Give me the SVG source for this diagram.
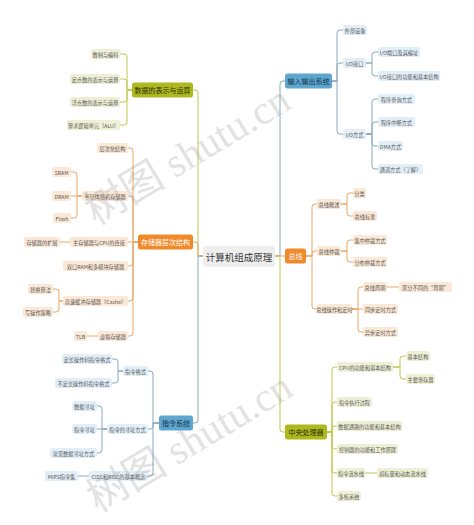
<svg xmlns="http://www.w3.org/2000/svg" width="474" height="525" viewBox="0 0 474 525">
<style>
text{font-family:"Noto Sans CJK SC","Noto Sans",sans-serif;text-anchor:middle;dominant-baseline:central}
.c text{font-size:5.2px;fill:#555}
.c rect{rx:2;ry:2}
.ob rect{fill:#eef0d6}
.or rect{fill:#fbe8d6}
.bl rect{fill:#e2eff8}
.m text{font-size:7px}
.m rect{rx:2.5;ry:2.5}
.mo rect{fill:#adb91e}.mo text{fill:#2c3000}
.mr rect{fill:#f0892a}.mr text{fill:#fff}
.mb rect{fill:#5fa6cf}.mb text{fill:#10314a}
#conn path{fill:none;stroke-width:1}
.lo{stroke:#bfc84c}.lr{stroke:#e9a766}.lb{stroke:#88aabd}
.wm{font-family:"Liberation Serif","Noto Sans CJK SC",serif;font-size:41px;fill:#9a9a9a;opacity:.28;text-anchor:start;dominant-baseline:auto}
</style>
<rect width="474" height="525" fill="#fff"/>
<g id="conn">
<path class="lo" stroke-width="1.3" d="M203,256 H198 V93 Q198,90 195,90 H193"/>
<path class="lr" stroke-width="1.3" d="M203,256 H198 V245 Q198,242 195,242 H193"/>
<path class="lb" stroke-width="1.3" d="M203,256 H198 V420 Q198,423 195,423 H193"/>
<path class="lb" stroke-width="1.3" d="M275,256 H280 V84 Q280,81 283,81 H285"/>
<path class="lo" stroke-width="1.3" d="M275,256 H280 V429 Q280,432 283,432 H285"/>
<path class="lr" stroke-width="1.3" d="M275,256 H285"/>
<path class="lo" d="M132,90 H127 V57 Q127,54 124,54 H120 M132,90 H127 V82 Q127,79 124,79 H120 M132,90 H127 V99 Q127,102 124,102 H120 M132,90 H127 V122 Q127,125 124,125 H120"/>
<path class="lr" d="M138,242 H133 V151 Q133,148 130,148 H128 M138,242 H133 V199 Q133,196 130,196 H128 M138,242 H128 M138,242 H133 V263 Q133,266 130,266 H128 M138,242 H133 V298 Q133,301 130,301 H128 M138,242 H133 V333 Q133,336 130,336 H128"/>
<path class="lr" d="M82,196 H77 V175 Q77,172 74,172 H71 M82,196 H71 M82,196 H77 V215 Q77,218 74,218 H71 M70,242 H60 M63,301 H59 V292 Q59,289 56,289 H53 M63,301 H59 V309 Q59,312 56,312 H53 M98,336 H87"/>
<path class="lb" d="M159,423 H153 V374 Q153,371 150,371 H148 M159,423 H153 V426 Q153,429 150,429 H148 M159,423 H153 V473 Q153,476 150,476 H148"/>
<path class="lb" d="M123,371 H118 V362 Q118,359 115,359 H112 M123,371 H118 V380 Q118,383 115,383 H112 M107,429 H102 V409 Q102,406 99,406 H97 M107,429 H97 M107,429 H102 V450 Q102,453 99,453 H97 M89,476 H78"/>
<path class="lb" d="M332,81 H337 V33 Q337,30 340,30 H343 M332,81 H337 V66 Q337,63 340,63 H343 M332,81 H337 V131 Q337,134 340,134 H343"/>
<path class="lb" d="M366,63 H372 V55 Q372,52 375,52 H378 M366,63 H372 V73 Q372,76 375,76 H378 M366,134 H372 V102 Q372,99 375,99 H378 M366,134 H372 V125 Q372,122 375,122 H378 M366,134 H372 V143 Q372,146 375,146 H378 M366,134 H372 V166 Q372,169 375,169 H378"/>
<path class="lr" d="M306,256 H312 V207 Q312,204 315,204 H317 M306,256 H312 V254 Q312,251 315,251 H317 M306,256 H312 V306 Q312,309 315,309 H317"/>
<path class="lr" d="M341,204 H347 V196 Q347,193 350,193 H353 M341,204 H347 V213 Q347,216 350,216 H353 M341,251 H347 V243 Q347,240 350,240 H353 M341,251 H347 V259 Q347,262 350,262 H353 M352,309 H358 V290 Q358,287 361,287 H363 M352,309 H363 M352,309 H358 V329 Q358,332 361,332 H363 M387,287 H399"/>
<path class="lo" d="M327,432 H332 V370 Q332,367 335,367 H337 M327,432 H332 V405 Q332,402 335,402 H337 M327,432 H332 V429 Q332,426 335,426 H337 M327,432 H332 V446 Q332,449 335,449 H337 M327,432 H332 V470 Q332,473 335,473 H337 M327,432 H332 V493 Q332,496 335,496 H337"/>
<path class="lo" d="M393,367 H400 V359 Q400,356 403,356 H406 M393,367 H400 V376 Q400,379 403,379 H406 M365,473 H377"/>
</g>
<g id="root"><rect x="203" y="246" width="72" height="21" rx="3" fill="#eeeeee"/><text x="239" y="256.5" font-size="9.5" fill="#333">计算机组成原理</text></g>
<g id="n-data" class="m mo"><rect x="132" y="82.5" width="61" height="15"/><text x="162.5" y="90">数据的表示与运算</text></g>
<g id="n-mem" class="m mr"><rect x="138" y="234.5" width="55" height="15"/><text x="165.5" y="242">存储器层次结构</text></g>
<g id="n-ins" class="m mb"><rect x="159" y="415.5" width="34" height="15"/><text x="176" y="423">指令系统</text></g>
<g id="n-io" class="m mb"><rect x="285" y="73.5" width="47" height="15"/><text x="308.5" y="81">输入输出系统</text></g>
<g id="n-bus" class="m mr"><rect x="285" y="248.5" width="21" height="15"/><text x="295.5" y="256">总线</text></g>
<g id="n-cpu" class="m mo"><rect x="285" y="424.5" width="42" height="15"/><text x="306" y="432">中央处理器</text></g>
<g class="c ob">
<g id="d1"><rect x="91" y="49" width="29" height="10"/><text x="105.5" y="54">数制与编码</text></g>
<g id="d2"><rect x="70" y="74" width="50" height="10"/><text x="95" y="79">定点数的表示与运算</text></g>
<g id="d3"><rect x="70" y="97" width="50" height="10"/><text x="95" y="102">浮点数的表示与运算</text></g>
<g id="d4"><rect x="67" y="120" width="53" height="10"/><text x="93.5" y="125">算术逻辑单元（ALU）</text></g>
<g id="p1"><rect x="337" y="362" width="56" height="10"/><text x="365" y="367">CPU的功能和基本结构</text></g>
<g id="p1a"><rect x="406" y="351" width="24" height="10"/><text x="418" y="356">基本结构</text></g>
<g id="p1b"><rect x="406" y="374" width="29" height="10"/><text x="420.5" y="379">主要寄存器</text></g>
<g id="p2"><rect x="337" y="397" width="35" height="10"/><text x="354.5" y="402">指令执行过程</text></g>
<g id="p3"><rect x="337" y="421" width="65" height="10"/><text x="369.5" y="426">数据通路的功能和基本结构</text></g>
<g id="p4"><rect x="337" y="444" width="61" height="10"/><text x="367.5" y="449">控制器的功能和工作原理</text></g>
<g id="p5"><rect x="337" y="468" width="28" height="10"/><text x="351" y="473">指令流水线</text></g>
<g id="p5a"><rect x="377" y="468" width="51" height="10"/><text x="402.5" y="473">超标量和动态流水线</text></g>
<g id="p6"><rect x="337" y="491" width="24" height="10"/><text x="349" y="496">多核系统</text></g>
</g>
<g class="c or">
<g id="m1"><rect x="97" y="143" width="31" height="10"/><text x="112.5" y="148">层次化结构</text></g>
<g id="m2"><rect x="82" y="191" width="46" height="10"/><text x="105" y="196">半导体随机存储器</text></g>
<g id="m2a"><rect x="52" y="167" width="19" height="10"/><text x="61.5" y="172">SRAM</text></g>
<g id="m2b"><rect x="52" y="191" width="19" height="10"/><text x="61.5" y="196">DRAM</text></g>
<g id="m2c"><rect x="53" y="213" width="18" height="10"/><text x="62" y="218">Flash</text></g>
<g id="m3"><rect x="70" y="237" width="58" height="10"/><text x="99" y="242">主存储器与CPU的连接</text></g>
<g id="m3a"><rect x="24" y="237" width="36" height="10"/><text x="42" y="242">存储器的扩展</text></g>
<g id="m4"><rect x="63" y="261" width="65" height="10"/><text x="95.5" y="266">双口RAM和多模块存储器</text></g>
<g id="m5"><rect x="63" y="296" width="65" height="10"/><text x="95.5" y="301">高速缓冲存储器（Cache）</text></g>
<g id="m5a"><rect x="28" y="284" width="25" height="10"/><text x="40.5" y="289">替换算法</text></g>
<g id="m5b"><rect x="23" y="307" width="30" height="10"/><text x="38" y="312">写操作策略</text></g>
<g id="m6"><rect x="98" y="331" width="30" height="10"/><text x="113" y="336">虚拟存储器</text></g>
<g id="m6a"><rect x="74" y="331" width="13" height="10"/><text x="80.5" y="336">TLB</text></g>
<g id="b1"><rect x="317" y="199" width="24" height="10"/><text x="329" y="204">总线概述</text></g>
<g id="b1a"><rect x="353" y="188" width="13" height="10"/><text x="359.5" y="193">分类</text></g>
<g id="b1b"><rect x="353" y="211" width="24" height="10"/><text x="365" y="216">总线标准</text></g>
<g id="b2"><rect x="317" y="246" width="24" height="10"/><text x="329" y="251">总线仲裁</text></g>
<g id="b2a"><rect x="353" y="235" width="34" height="10"/><text x="370" y="240">集中仲裁方式</text></g>
<g id="b2b"><rect x="353" y="257" width="34" height="10"/><text x="370" y="262">分布仲裁方式</text></g>
<g id="b3"><rect x="317" y="304" width="35" height="10"/><text x="334.5" y="309">总线操作和定时</text></g>
<g id="b3a"><rect x="363" y="282" width="24" height="10"/><text x="375" y="287">总线周期</text></g>
<g id="b3a1"><rect x="399" y="282" width="53" height="10"/><text x="425.5" y="287">区分不同的“周期”</text></g>
<g id="b3b"><rect x="363" y="304" width="35" height="10"/><text x="380.5" y="309">同步定时方式</text></g>
<g id="b3c"><rect x="363" y="327" width="35" height="10"/><text x="380.5" y="332">异步定时方式</text></g>
</g>
<g class="c bl">
<g id="i1"><rect x="123" y="366" width="25" height="10"/><text x="135.5" y="371">指令格式</text></g>
<g id="i1a"><rect x="62" y="354" width="50" height="10"/><text x="87" y="359">定长操作码指令格式</text></g>
<g id="i1b"><rect x="55" y="378" width="57" height="10"/><text x="83.5" y="383">不定长操作码指令格式</text></g>
<g id="i2"><rect x="107" y="424" width="41" height="10"/><text x="127.5" y="429">指令的寻址方式</text></g>
<g id="i2a"><rect x="72" y="401" width="25" height="10"/><text x="84.5" y="406">数据寻址</text></g>
<g id="i2b"><rect x="72" y="424" width="25" height="10"/><text x="84.5" y="429">指令寻址</text></g>
<g id="i2c"><rect x="50" y="448" width="47" height="10"/><text x="73.5" y="453">常见数据寻址方式</text></g>
<g id="i3"><rect x="89" y="471" width="59" height="10"/><text x="118.5" y="476">CISC和RISC的基本概念</text></g>
<g id="i3a"><rect x="45" y="471" width="33" height="10"/><text x="61.5" y="476">MIPS指令集</text></g>
<g id="o1"><rect x="343" y="25" width="24" height="10"/><text x="355" y="30">外部设备</text></g>
<g id="o2"><rect x="343" y="58" width="23" height="10"/><text x="354.5" y="63">I/O接口</text></g>
<g id="o2a"><rect x="378" y="47" width="42" height="10"/><text x="399" y="52">I/O端口及其编址</text></g>
<g id="o2b"><rect x="378" y="71" width="62" height="10"/><text x="409" y="76">I/O接口的功能和基本结构</text></g>
<g id="o3"><rect x="343" y="129" width="23" height="10"/><text x="354.5" y="134">I/O方式</text></g>
<g id="o3a"><rect x="378" y="94" width="37" height="10"/><text x="396.5" y="99">程序查询方式</text></g>
<g id="o3b"><rect x="378" y="117" width="37" height="10"/><text x="396.5" y="122">程序中断方式</text></g>
<g id="o3c"><rect x="378" y="141" width="25" height="10"/><text x="390.5" y="146">DMA方式</text></g>
<g id="o3d"><rect x="378" y="164" width="45" height="10"/><text x="400.5" y="169">通道方式（了解）</text></g>
</g>
<g id="watermark">
<text class="wm" transform="translate(96,226) rotate(-31)">树图 shutu.cn</text>
<text class="wm" transform="translate(98,513) rotate(-31)">树图 shutu.cn</text>
</g>
</svg>
